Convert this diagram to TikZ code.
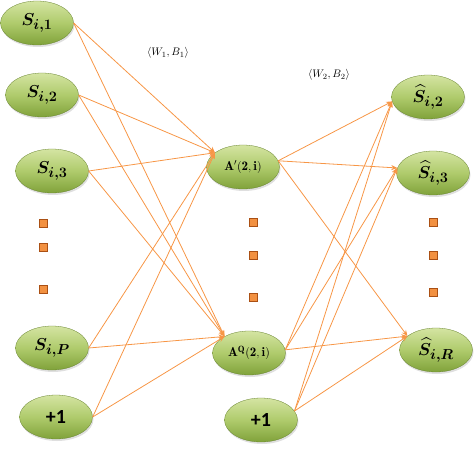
\documentclass[tikz,border=0pt]{standalone}
\usepackage{amsmath,amssymb,bm}
\usepackage{fontspec}
\newfontfamily\calib{Carlito}
\usetikzlibrary{arrows.meta,shadows,shapes.geometric}
\definecolor{topG}{RGB}{212,228,162}
\definecolor{midG}{RGB}{175,203,108}
\definecolor{botG}{RGB}{128,162,58}
\definecolor{edgeO}{RGB}{247,150,70}
\definecolor{dotO}{RGB}{242,145,65}
\definecolor{dotD}{RGB}{170,80,20}
\tikzset{
  neuron/.style={ellipse, minimum width=73pt, minimum height=44pt, inner sep=0pt,
    top color=topG, bottom color=botG, middle color=midG, draw=botG!80!black, line width=0.3pt,
    drop shadow={shadow xshift=1pt, shadow yshift=-2pt, opacity=0.25}},
  conn/.style={draw=edgeO, line width=0.8pt, -{Stealth[length=6pt,width=5pt]}},
  dotbox/.style={rectangle, minimum width=7.5pt, minimum height=7.5pt, inner sep=0pt,
    fill=dotO, draw=dotD, line width=0.4pt},
  wlabel/.style={font=\fontsize{11}{13}\selectfont},
  bigtxt/.style={font=\fontsize{19}{21}\selectfont},
  onetxt/.style={font=\calib\bfseries\fontsize{20}{22}\selectfont}
}
\begin{document}
\begin{tikzpicture}[x=1pt,y=-1pt]
\useasboundingbox (0,0) rectangle (474,449);
% left layer
\node[neuron,bigtxt] (S1) at (37,23) {$\bm{S_{i,1}}$};
\node[neuron,bigtxt] (S2) at (42,95) {$\bm{S_{i,2}}$};
\node[neuron,bigtxt] (S3) at (52,171) {$\bm{S_{i,3}}$};
\node[neuron,bigtxt] (SP) at (52,348) {$\bm{S_{i,P}}$};
\node[neuron,onetxt] (B1) at (56,417) {+1};
\node[dotbox] (L1) at (43,223) {};
\node[dotbox] (L2) at (43,247) {};
\node[dotbox] (L3) at (43,289) {};
% hidden layer
\node[neuron] (Ap) at (243,167) {\fontsize{13}{15}\selectfont$\mathbf{A}'\mathbf{(2,i)}$};
\node[neuron] (AQ) at (249,353) {\fontsize{13}{15}\selectfont$\mathbf{A^{Q}(2,i)}$};
\node[neuron,onetxt] (B2) at (261,420) {+1};
\node[dotbox] (M1) at (253,222) {};
\node[dotbox] (M2) at (253,255) {};
\node[dotbox] (M3) at (253,297) {};
% output layer
\node[neuron,bigtxt] (O2) at (428,97) {$\widehat{\bm{S}}_{\bm{i,2}}$};
\node[neuron,bigtxt] (O3) at (433,173) {$\widehat{\bm{S}}_{\bm{i,3}}$};
\node[neuron,bigtxt] (OR) at (436,350) {$\widehat{\bm{S}}_{\bm{i,R}}$};
\node[dotbox] (R1) at (433,222) {};
\node[dotbox] (R2) at (433,255) {};
\node[dotbox] (R3) at (433,292) {};
% labels
\node[wlabel] (W1) at (168,53) {$\langle W_1,B_1\rangle$};
\node[wlabel] (W2) at (329,75) {$\langle W_2,B_2\rangle$};
% connections layer 1
\foreach \s in {S1,S2,S3,SP,B1}{
  \draw[conn] (\s.east) -- (Ap.153);
  \draw[conn] (\s.east) -- (AQ.146);
}
% connections layer 2
\foreach \h/\a in {Ap/10,AQ/5,B2/15}{
  \draw[conn] (\h.\a) -- (O2.187);
  \draw[conn] (\h.\a) -- (O3.172);
  \draw[conn] (\h.\a) -- (OR.154);
}
\end{tikzpicture}
\end{document}
